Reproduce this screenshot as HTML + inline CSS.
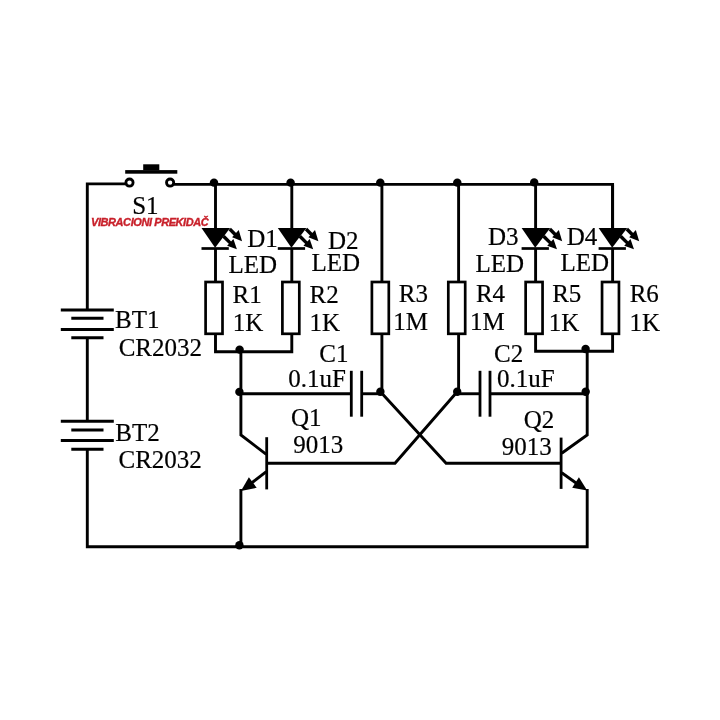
<!DOCTYPE html>
<html><head><meta charset="utf-8"><style>
html,body{margin:0;padding:0;background:#fff;width:720px;height:720px;overflow:hidden}
svg{display:block;will-change:transform;filter:blur(0.3px)}
path,rect,circle{fill:none;stroke:#000;stroke-linejoin:miter}
.f{fill:#000;stroke:none}
text{font-family:"Liberation Serif",serif;font-size:25px;fill:#000;stroke:#000;stroke-width:0.2px}
text.red{font-family:"Liberation Sans",sans-serif;font-weight:bold;font-style:italic;font-size:11px;fill:#c8202a;stroke:#c8202a;stroke-width:0.35px;letter-spacing:-0.42px}
</style></head><body>
<svg width="720" height="720" viewBox="0 0 720 720">
<path d="M125.80,183.90 L87.30,183.90 L87.30,310.00" stroke-width="2.9"/>
<path d="M87.30,337.80 L87.30,421.25" stroke-width="2.9"/>
<path d="M87.30,449.25 L87.30,546.70 L587.20,546.70 L587.20,489.00" stroke-width="2.9"/>
<path d="M60.80,310.00 L113.80,310.00" stroke-width="3"/>
<path d="M71.30,318.30 L103.50,318.30" stroke-width="3"/>
<path d="M60.80,329.50 L113.80,329.50" stroke-width="3"/>
<path d="M71.30,337.80 L103.50,337.80" stroke-width="3"/>
<path d="M60.80,421.25 L113.80,421.25" stroke-width="3"/>
<path d="M71.30,430.00 L103.50,430.00" stroke-width="3"/>
<path d="M60.80,440.50 L113.80,440.50" stroke-width="3"/>
<path d="M71.30,449.25 L103.50,449.25" stroke-width="3"/>
<circle cx="129.5" cy="182.6" r="3.6" stroke-width="2.8"/>
<circle cx="170.1" cy="182.6" r="3.6" stroke-width="2.8"/>
<rect class="f" x="125.2" y="170.1" width="52.1" height="3.6"/>
<rect class="f" x="143.2" y="164.3" width="16.1" height="6"/>
<path d="M174.00,184.40 L612.60,184.40 L612.60,229.00" stroke-width="2.9"/>
<polygon class="f" points="201.50,228.00 230.10,228.00 215.10,247.80"/>
<path d="M201.50,248.50 L228.80,248.50" stroke-width="2.7"/>
<path d="M229.70,229.00 L235.90,235.20" stroke-width="3.4"/>
<polygon class="f" points="238.72,230.05 242.08,241.14 232.11,237.22"/>
<path d="M223.50,236.20 L230.70,243.40" stroke-width="3.4"/>
<polygon class="f" points="233.40,238.99 236.87,249.29 227.13,245.82"/>
<path d="M215.50,184.40 L215.50,229.00" stroke-width="2.9"/>
<path d="M215.50,248.00 L215.50,282.00" stroke-width="2.9"/>
<polygon class="f" points="277.80,228.00 306.40,228.00 291.40,247.80"/>
<path d="M277.80,248.50 L305.10,248.50" stroke-width="2.7"/>
<path d="M306.00,229.00 L312.20,235.20" stroke-width="3.4"/>
<polygon class="f" points="315.02,230.05 318.38,241.14 308.41,237.22"/>
<path d="M299.80,236.20 L307.00,243.40" stroke-width="3.4"/>
<polygon class="f" points="309.70,238.99 313.17,249.29 303.43,245.82"/>
<path d="M291.80,184.40 L291.80,229.00" stroke-width="2.9"/>
<path d="M291.80,248.00 L291.80,282.00" stroke-width="2.9"/>
<polygon class="f" points="521.60,228.00 550.20,228.00 535.20,247.80"/>
<path d="M521.60,248.50 L548.90,248.50" stroke-width="2.7"/>
<path d="M549.80,229.00 L556.00,235.20" stroke-width="3.4"/>
<polygon class="f" points="558.82,230.05 562.18,241.14 552.21,237.22"/>
<path d="M543.60,236.20 L550.80,243.40" stroke-width="3.4"/>
<polygon class="f" points="553.50,238.99 556.97,249.29 547.23,245.82"/>
<path d="M535.60,184.40 L535.60,229.00" stroke-width="2.9"/>
<path d="M535.60,248.00 L535.60,282.00" stroke-width="2.9"/>
<polygon class="f" points="598.60,228.00 627.20,228.00 612.20,247.80"/>
<path d="M598.60,248.50 L625.90,248.50" stroke-width="2.7"/>
<path d="M626.80,229.00 L633.00,235.20" stroke-width="3.4"/>
<polygon class="f" points="635.82,230.05 639.18,241.14 629.21,237.22"/>
<path d="M620.60,236.20 L627.80,243.40" stroke-width="3.4"/>
<polygon class="f" points="630.50,238.99 633.97,249.29 624.23,245.82"/>
<path d="M612.60,184.40 L612.60,229.00" stroke-width="2.9"/>
<path d="M612.60,248.00 L612.60,282.00" stroke-width="2.9"/>
<path d="M381.90,184.40 L381.90,282.00" stroke-width="2.9"/>
<path d="M458.60,184.40 L458.60,282.00" stroke-width="2.9"/>
<rect x="205.60" y="282.00" width="16.90" height="51.80" stroke-width="2.7"/>
<rect x="282.40" y="282.00" width="16.90" height="51.80" stroke-width="2.7"/>
<rect x="371.90" y="282.00" width="16.90" height="51.80" stroke-width="2.7"/>
<rect x="448.30" y="282.00" width="16.90" height="51.80" stroke-width="2.7"/>
<rect x="525.65" y="282.00" width="16.90" height="51.80" stroke-width="2.7"/>
<rect x="602.05" y="282.00" width="16.90" height="51.80" stroke-width="2.7"/>
<path d="M215.50,333.80 L215.50,351.70 L291.80,351.70 L291.80,333.80" stroke-width="2.9"/>
<path d="M535.60,333.80 L535.60,351.20 L612.60,351.20 L612.60,333.80" stroke-width="2.9"/>
<path d="M381.90,333.80 L381.90,392.50" stroke-width="2.9"/>
<path d="M458.60,333.80 L458.60,392.50" stroke-width="2.9"/>
<path d="M240.90,351.70 L240.90,435.00 L266.30,454.40" stroke-width="2.9"/>
<path d="M587.20,351.20 L587.20,435.00 L561.70,453.30" stroke-width="2.9"/>
<path d="M240.90,393.75 L351.30,393.75" stroke-width="2.9"/>
<path d="M361.70,393.75 L381.90,393.75" stroke-width="2.9"/>
<path d="M458.60,393.75 L480.00,393.75" stroke-width="2.9"/>
<path d="M490.00,393.75 L587.20,393.75" stroke-width="2.9"/>
<path d="M351.30,370.80 L351.30,416.70" stroke-width="2.8"/>
<path d="M361.70,370.80 L361.70,416.70" stroke-width="2.8"/>
<path d="M480.00,370.80 L480.00,416.70" stroke-width="2.8"/>
<path d="M490.00,370.80 L490.00,416.70" stroke-width="2.8"/>
<path d="M380.40,391.80 L446.10,463.30 L561.10,463.30" stroke-width="2.9"/>
<path d="M457.20,391.80 L395.00,463.30 L266.70,463.30" stroke-width="2.9"/>
<path d="M266.70,437.20 L266.70,489.40" stroke-width="2.8"/>
<path d="M561.10,437.60 L561.10,488.90" stroke-width="2.8"/>
<path d="M266.30,471.70 L246.00,487.20" stroke-width="2.9"/>
<polygon class="f" points="240.90,491.10 248.90,477.20 256.70,487.80"/>
<path d="M240.90,489.00 L240.90,546.70" stroke-width="2.9"/>
<path d="M561.70,472.80 L582.00,487.20" stroke-width="2.9"/>
<polygon class="f" points="587.20,490.60 572.20,487.80 578.90,477.20"/>
<circle cx="214.00" cy="182.60" r="4.2" class="f"/>
<circle cx="290.60" cy="182.60" r="4.2" class="f"/>
<circle cx="380.30" cy="182.60" r="4.2" class="f"/>
<circle cx="457.30" cy="182.60" r="4.2" class="f"/>
<circle cx="534.20" cy="182.40" r="4.2" class="f"/>
<circle cx="239.60" cy="349.60" r="4.2" class="f"/>
<circle cx="239.40" cy="391.90" r="4.2" class="f"/>
<circle cx="380.40" cy="391.80" r="4.2" class="f"/>
<circle cx="457.20" cy="391.80" r="4.2" class="f"/>
<circle cx="585.60" cy="349.00" r="4.2" class="f"/>
<circle cx="585.70" cy="391.80" r="4.2" class="f"/>
<circle cx="239.40" cy="545.30" r="4.2" class="f"/>
<text x="132.15" y="213.75">S1</text>
<text x="115.05" y="328.30">BT1</text>
<text x="118.70" y="355.80">CR2032</text>
<text x="115.25" y="440.50">BT2</text>
<text x="118.50" y="468.00">CR2032</text>
<text x="247.25" y="246.60">D1</text>
<text x="228.55" y="272.90">LED</text>
<text x="327.95" y="249.20">D2</text>
<text x="311.45" y="271.00">LED</text>
<text x="232.55" y="302.50">R1</text>
<text x="232.75" y="330.80">1K</text>
<text x="309.55" y="302.60">R2</text>
<text x="309.45" y="331.00">1K</text>
<text x="398.85" y="301.80">R3</text>
<text x="393.25" y="330.00">1M</text>
<text x="475.95" y="302.00">R4</text>
<text x="469.95" y="330.00">1M</text>
<text x="488.00" y="244.50">D3</text>
<text x="475.50" y="272.00">LED</text>
<text x="566.75" y="244.50">D4</text>
<text x="560.50" y="270.50">LED</text>
<text x="552.15" y="302.20">R5</text>
<text x="548.75" y="330.70">1K</text>
<text x="629.65" y="302.20">R6</text>
<text x="629.55" y="330.70">1K</text>
<text x="319.30" y="361.90">C1</text>
<text x="288.20" y="387.20">0.1uF</text>
<text x="494.00" y="361.70">C2</text>
<text x="497.00" y="386.70">0.1uF</text>
<text x="291.00" y="425.60">Q1</text>
<text x="293.15" y="453.30">9013</text>
<text x="523.70" y="427.50">Q2</text>
<text x="501.75" y="455.00">9013</text>
<text class="red" x="91.0" y="225.5">VIBRACIONI PREKIDAČ</text>
</svg>
</body></html>
